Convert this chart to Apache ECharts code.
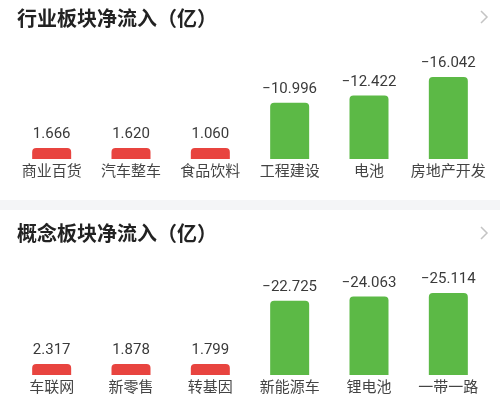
<!doctype html>
<html>
<head>
	<meta charset="utf-8">
	<style>
		html, body { margin: 0; padding: 0; background: #fff; }
		#chart { width: 500px; height: 414px; }
	</style>
</head>
<body>
	<div id="chart"></div>
</body>
<script src="https://cdn.jsdelivr.net/npm/echarts@6/dist/echarts.min.js"></script>
<script type="text/javascript">
	// 行业板块
	var hyNames = ['商业百货', '汽车整车', '食品饮料', '工程建设', '电池', '房地产开发'];
	var hyValues = [1.666, 1.620, 1.060, -10.996, -12.422, -16.042];
	// 概念板块
	var gnNames = ['车联网', '新零售', '转基因', '新能源车', '锂电池', '一带一路'];
	var gnValues = [2.317, 1.878, 1.799, -22.725, -24.063, -25.114];

	var RED = '#e8443f';
	var GREEN = '#5cb946';
	var FONT = 'Roboto, "Noto Sans CJK SC", sans-serif';

	function barData(values) {
		return values.map(function(v) {
			return {
				value: Math.abs(v),
				raw: v,
				itemStyle: { color: v >= 0 ? RED : GREEN }
			};
		});
	}

	function fmt(p) {
		var v = p.data.raw;
		return (v < 0 ? '\u2212' + Math.abs(v).toFixed(3) : v.toFixed(3));
	}

	function xAxisOf(idx, names) {
		return {
			type: 'category',
			gridIndex: idx,
			data: names,
			axisLine: { show: false },
			axisTick: { show: false },
			axisLabel: {
				interval: 0,
				margin: 6,
				color: '#444',
				fontSize: 15,
				fontFamily: FONT
			}
		};
	}

	function yAxisOf(idx) {
		return {
			type: 'value',
			gridIndex: idx,
			min: 0,
			max: function(value) { return value.max; },
			show: false,
			splitLine: { show: false }
		};
	}

	function seriesOf(idx, values) {
		return {
			type: 'bar',
			xAxisIndex: idx,
			yAxisIndex: idx,
			barWidth: 39,
			barMinHeight: 11,
			data: barData(values),
			itemStyle: { borderRadius: [4, 4, 0, 0] },
			label: {
				show: true,
				position: 'top',
				distance: 6,
				color: '#3a3a3a',
				fontSize: 15,
				fontFamily: FONT,
				formatter: fmt
			}
		};
	}

	function chevron(y) {
		return {
			type: 'polyline',
			shape: { points: [[481, y - 6], [487, y], [481, y + 6]] },
			style: { stroke: '#c4c4c4', lineWidth: 1.5, fill: null }
		};
	}

	var myChart = echarts.init(document.getElementById('chart'));
	var option = {
		backgroundColor: '#fff',
		animation: false,
		title: [{
			text: '行业板块净流入（亿）',
			left: 12,
			top: 6,
			textStyle: { fontSize: 20, fontWeight: 'bold', color: '#222', fontFamily: FONT }
		}, {
			text: '概念板块净流入（亿）',
			left: 12,
			top: 221,
			textStyle: { fontSize: 20, fontWeight: 'bold', color: '#222', fontFamily: FONT }
		}],
		graphic: [{
			type: 'rect',
			shape: { x: 0, y: 200, width: 500, height: 10 },
			style: { fill: '#f4f5f7' }
		}, chevron(17), chevron(233)],
		grid: [
			{ left: 12, right: 12, top: 77, height: 82 },
			{ left: 12, right: 12, top: 293, height: 82 }
		],
		xAxis: [xAxisOf(0, hyNames), xAxisOf(1, gnNames)],
		yAxis: [yAxisOf(0), yAxisOf(1)],
		series: [seriesOf(0, hyValues), seriesOf(1, gnValues)]
	};
	myChart.setOption(option);
</script>
</html>
